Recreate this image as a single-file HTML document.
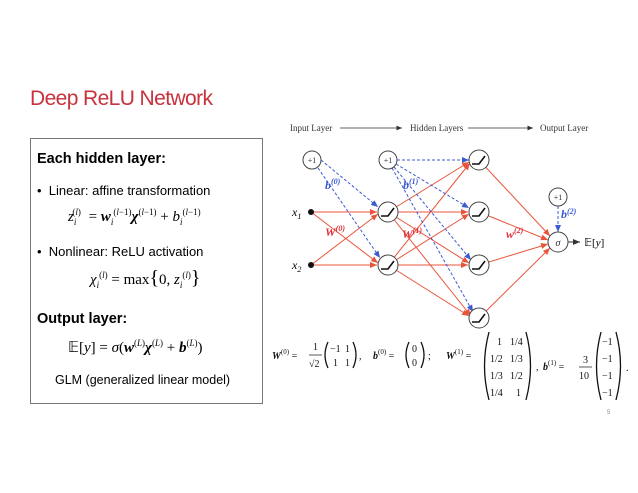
<!DOCTYPE html>
<html><head><meta charset="utf-8"><style>
body{margin:0;width:638px;height:493px;background:#fff;position:relative;overflow:hidden;font-family:"Liberation Sans",sans-serif}
.t{position:absolute;white-space:nowrap}
.serif{font-family:"Liberation Serif",serif}
</style></head><body>
<div class="t" style="left:30px;top:87px;font-size:21px;color:#c8323c;letter-spacing:-0.6px">Deep ReLU Network</div>
<div style="position:absolute;left:30px;top:138px;width:231px;height:264px;border:1.5px solid #777"></div>
<div class="t" style="left:37px;top:151px;font-size:14.5px;font-weight:bold">Each hidden layer:</div>
<div class="t" style="left:37px;top:183px;font-size:13px">•&nbsp; Linear: affine transformation</div>
<div class="t serif" style="left:68px;top:207px;font-size:15px"><i>z</i><sub style="font-size:9px"><i>i</i></sub><sup style="font-size:9px;position:relative;left:-4px">(<i>l</i>)</sup> = <b><i>w</i></b><sub style="font-size:9px"><i>i</i></sub><sup style="font-size:9px">(<i>l</i>−1)</sup><b><i>χ</i></b><sup style="font-size:9px">(<i>l</i>−1)</sup> + <i>b</i><sub style="font-size:9px"><i>i</i></sub><sup style="font-size:9px">(<i>l</i>−1)</sup></div>
<div class="t" style="left:37px;top:244px;font-size:13px">•&nbsp; Nonlinear: ReLU activation</div>
<div class="t serif" style="left:90px;top:267px;font-size:15px"><i>χ</i><sub style="font-size:9px"><i>i</i></sub><sup style="font-size:9px">(<i>l</i>)</sup> = max<span style="font-size:20px">{</span>0, <i>z</i><sub style="font-size:9px"><i>i</i></sub><sup style="font-size:9px">(<i>l</i>)</sup><span style="font-size:20px">}</span></div>
<div class="t" style="left:37px;top:311px;font-size:14.5px;font-weight:bold">Output layer:</div>
<div class="t serif" style="left:68px;top:338px;font-size:15px">𝔼[<i>y</i>] = <i>σ</i>(<b><i>w</i></b><sup style="font-size:9px">(<i>L</i>)</sup><b><i>χ</i></b><sup style="font-size:9px">(<i>L</i>)</sup> + <b><i>b</i></b><sup style="font-size:9px">(<i>L</i>)</sup>)</div>
<div class="t" style="left:55px;top:373px;font-size:12.5px">GLM (generalized linear model)</div>

<svg style="position:absolute;left:0;top:0" width="638" height="493">
<defs>
<marker id="r" markerWidth="8" markerHeight="8" refX="7" refY="3" orient="auto"><path d="M0,0L7,3L0,6z" fill="#e8553a"/></marker>
<marker id="b" markerWidth="8" markerHeight="8" refX="7" refY="3" orient="auto"><path d="M0,0L7,3L0,6z" fill="#3b5bd0"/></marker>
<marker id="k" markerWidth="8" markerHeight="8" refX="7" refY="3" orient="auto"><path d="M0,0L7,3L0,6z" fill="#333"/></marker>
</defs>
<g font-family="Liberation Serif" font-size="9" fill="#333">
<text x="290" y="131">Input Layer</text><text x="410" y="131">Hidden Layers</text><text x="540" y="131">Output Layer</text>
</g>
<g stroke="#333" stroke-width="0.8"><line x1="340" y1="128" x2="402" y2="128" marker-end="url(#k)"/><line x1="468" y1="128" x2="533" y2="128" marker-end="url(#k)"/></g>
<g stroke="#e8553a" stroke-width="1" marker-end="url(#r)">
<line x1="311" y1="212" x2="377" y2="212"/><line x1="311" y1="212" x2="378" y2="263"/>
<line x1="311" y1="265" x2="378" y2="214"/><line x1="311" y1="265" x2="377" y2="265"/>
<line x1="388" y1="212" x2="469" y2="162"/><line x1="388" y1="212" x2="468" y2="212"/><line x1="388" y1="212" x2="469" y2="263"/><line x1="388" y1="212" x2="471" y2="316"/>
<line x1="388" y1="265" x2="470" y2="163"/><line x1="388" y1="265" x2="469" y2="214"/><line x1="388" y1="265" x2="468" y2="265"/><line x1="388" y1="265" x2="469" y2="316"/>
<line x1="479" y1="160" x2="550" y2="236"/><line x1="479" y1="212" x2="548" y2="240"/><line x1="479" y1="265" x2="548" y2="244"/><line x1="479" y1="318" x2="550" y2="248"/>
</g>
<g stroke="#3b5bd0" stroke-width="1" stroke-dasharray="3,2" marker-end="url(#b)">
<line x1="321" y1="160" x2="378" y2="207"/><line x1="318" y1="168" x2="380" y2="258"/>
<line x1="397" y1="160" x2="469" y2="160"/><line x1="396" y1="164" x2="469" y2="208"/><line x1="394" y1="167" x2="471" y2="260"/><line x1="392" y1="168" x2="473" y2="312"/>
<line x1="558" y1="206" x2="558" y2="232"/>
</g>
<line x1="568" y1="242" x2="580" y2="242" stroke="#333" marker-end="url(#k)"/>
<g fill="#fff" stroke="#444" stroke-width="1">
<circle cx="312" cy="160" r="9"/><circle cx="388" cy="160" r="9"/><circle cx="558" cy="197" r="9"/><circle cx="558" cy="242" r="10"/>
<circle cx="388" cy="212" r="10"/><circle cx="388" cy="265" r="10"/>
<circle cx="479" cy="160" r="10"/><circle cx="479" cy="212" r="10"/><circle cx="479" cy="265" r="10"/><circle cx="479" cy="318" r="10"/>
</g>
<g stroke="#111" stroke-width="1.6" fill="none">
<path d="M381,216h7l6,-8"/><path d="M381,269h7l6,-8"/><path d="M472,164h7l6,-8"/><path d="M472,216h7l6,-8"/><path d="M472,269h7l6,-8"/><path d="M472,322h7l6,-8"/>
</g>
<circle cx="311" cy="212" r="3" fill="#111"/><circle cx="311" cy="265" r="3" fill="#111"/>
<g font-family="Liberation Serif" font-size="8" text-anchor="middle" fill="#333"><text x="312" y="163">+1</text><text x="388" y="163">+1</text><text x="558" y="200">+1</text><text x="558" y="246" font-style="italic" font-size="10">σ</text></g>
<g font-family="Liberation Serif" font-style="italic" font-size="12">
<text x="292" y="216">x<tspan font-size="8" dy="3">1</tspan></text><text x="292" y="269">x<tspan font-size="8" dy="3">2</tspan></text>
<g fill="#3b5bd0" font-weight="bold"><text x="325" y="189">b<tspan font-size="8" dy="-5">(0)</tspan></text><text x="403" y="189">b<tspan font-size="8" dy="-5">(1)</tspan></text><text x="561" y="218">b<tspan font-size="8" dy="-4">(2)</tspan></text></g>
<g fill="#e0303a" font-weight="bold"><text x="325" y="236">W<tspan font-size="8" dy="-5">(0)</tspan></text><text x="402" y="238">W<tspan font-size="8" dy="-5">(1)</tspan></text><text x="506" y="238">w<tspan font-size="8" dy="-5">(2)</tspan></text></g>
<text x="584" y="246" font-style="normal" font-size="11">𝔼[<tspan font-style="italic">y</tspan>]</text>
</g>
<g stroke="#111" stroke-width="1.3" fill="none">
<path d="M328,342Q322,355 328,368"/><path d="M353,342Q359,355 353,368"/>
<path d="M409,342Q403,355 409,368"/><path d="M421,342Q427,355 421,368"/>
<path d="M489,332Q480,366 489,400"/><path d="M526,332Q535,366 526,400"/>
<path d="M601,332Q592,366 601,400"/><path d="M616,332Q625,366 616,400"/>
</g>
<g font-family="Liberation Serif" font-size="10" fill="#111">
<text x="272" y="359" font-style="italic" font-weight="bold">W<tspan font-size="7" dy="-5" font-style="normal" font-weight="normal">(0)</tspan><tspan dy="5" font-style="normal" font-weight="normal"> =</tspan></text>
<text x="313" y="350">1</text><line x1="309" y1="355" x2="322" y2="355" stroke="#111" stroke-width="0.7"/><text x="309" y="367">√2</text>
<text x="330" y="352">−1</text><text x="345" y="352">1</text><text x="333" y="366">1</text><text x="345" y="366">1</text>
<text x="359" y="359">,</text>
<text x="373" y="359" font-style="italic" font-weight="bold">b<tspan font-size="7" dy="-5" font-style="normal" font-weight="normal">(0)</tspan><tspan dy="5" font-style="normal" font-weight="normal"> =</tspan></text>
<text x="412" y="352">0</text><text x="412" y="366">0</text>
<text x="428" y="359">;</text>
<text x="446" y="359" font-style="italic" font-weight="bold">W<tspan font-size="7" dy="-5" font-style="normal" font-weight="normal">(1)</tspan><tspan dy="5" font-style="normal" font-weight="normal"> =</tspan></text>
<text x="497" y="345">1</text><text x="510" y="345">1/4</text>
<text x="490" y="362">1/2</text><text x="510" y="362">1/3</text>
<text x="490" y="379">1/3</text><text x="510" y="379">1/2</text>
<text x="490" y="396">1/4</text><text x="516" y="396">1</text>
<text x="536" y="370">,</text>
<text x="543" y="370" font-style="italic" font-weight="bold">b<tspan font-size="7" dy="-5" font-style="normal" font-weight="normal">(1)</tspan><tspan dy="5" font-style="normal" font-weight="normal"> =</tspan></text>
<text x="583" y="363">3</text><line x1="579" y1="367" x2="592" y2="367" stroke="#111" stroke-width="0.7"/><text x="579" y="379">10</text>
<text x="602" y="345">−1</text><text x="602" y="362">−1</text><text x="602" y="379">−1</text><text x="602" y="396">−1</text>
<text x="626" y="371">.</text>
</g>
<text x="607" y="414" font-size="6" fill="#888" font-family="Liberation Sans">5</text>
</svg>
</body></html>
